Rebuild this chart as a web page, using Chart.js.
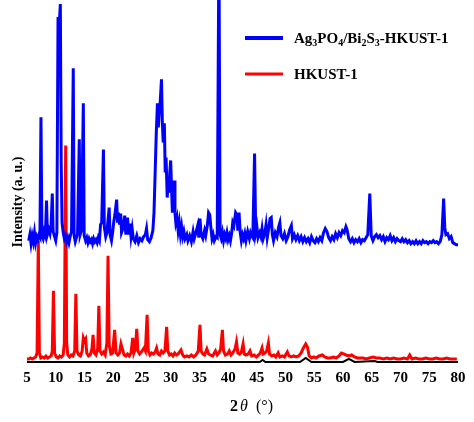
<!DOCTYPE html>
<html>
<head>
<meta charset="utf-8">
<script src="https://cdn.jsdelivr.net/npm/chart.js@4/dist/chart.umd.min.js"></script>
<style>
  html, body { margin: 0; padding: 0; background: #fff; }
  #wrap { width: 474px; height: 422px; position: relative; }
</style>
</head>
<body>
<div id="wrap"><canvas id="xrd"></canvas></div>
<script>
// --- Data (2θ in degrees, intensity in a.u., offset stacked) ---
const compositeAngles = [
  5.3, 5.5, 5.7, 5.9, 6.1, 6.3, 6.5, 6.7, 6.9, 7.1, 7.25, 7.43, 7.6, 7.8, 8.0, 8.2, 8.4, 8.55, 8.8, 9.0,
  9.2, 9.4, 9.55, 9.8, 10.0, 10.2, 10.4, 10.55, 10.8, 10.95, 11.1, 11.3, 11.5, 11.7, 11.9, 12.1, 12.3, 12.5, 12.75, 13.05,
  13.2, 13.4, 13.6, 13.8, 14.1, 14.25, 14.5, 14.8, 14.95, 15.2, 15.4, 15.6, 15.8, 16.0, 16.2, 16.4, 16.6, 16.8, 17.0, 17.2,
  17.4, 17.6, 17.8, 18.0, 18.3, 18.45, 18.7, 18.9, 19.3, 19.45, 19.7, 19.9, 20.1, 20.3, 20.6, 20.75, 20.9, 21.1, 21.3, 21.45,
  21.7, 22.0, 22.2, 22.5, 22.7, 22.9, 23.1, 23.3, 23.5, 23.8, 24.1, 24.4, 24.7, 25.0, 25.3, 25.6, 25.8, 26.0, 26.3, 26.6,
  26.9, 27.1, 27.3, 27.5, 27.7, 27.85, 28.0, 28.2, 28.4, 28.55, 28.7, 28.9, 29.05, 29.2, 29.4, 29.55, 29.7, 29.85, 30.0, 30.15,
  30.3, 30.45, 30.6, 30.75, 30.9, 31.1, 31.3, 31.5, 31.7, 31.9, 32.1, 32.3, 32.5, 32.8, 33.0, 33.3, 33.6, 33.9, 34.1, 34.4,
  34.7, 34.9, 35.1, 35.3, 35.6, 35.9, 36.1, 36.4, 36.6, 36.8, 37.0, 37.2, 37.4, 37.6, 37.9, 38.1, 38.4, 38.6, 38.8, 39.0,
  39.2, 39.4, 39.6, 39.8, 40.0, 40.2, 40.4, 40.6, 40.8, 41.0, 41.3, 41.5, 41.7, 41.9, 42.1, 42.3, 42.5, 42.7, 42.9, 43.1,
  43.4, 43.7, 43.9, 44.1, 44.3, 44.6, 44.8, 45.0, 45.2, 45.5, 45.7, 45.9, 46.1, 46.4, 46.6, 46.8, 47.0, 47.3, 47.5, 47.7,
  47.9, 48.2, 48.5, 48.8, 49.0, 49.2, 49.5, 49.8, 50.1, 50.4, 50.7, 51.0, 51.2, 51.5, 51.8, 52.1, 52.4, 52.7, 53.0, 53.3,
  53.6, 53.9, 54.2, 54.5, 54.8, 55.1, 55.4, 55.7, 56.0, 56.3, 56.6, 56.9, 57.2, 57.5, 57.8, 58.1, 58.4, 58.7, 59.0, 59.3,
  59.6, 59.9, 60.2, 60.5, 60.7, 61.0, 61.3, 61.6, 61.9, 62.2, 62.5, 62.8, 63.1, 63.4, 63.7, 64.0, 64.3, 64.65, 64.9, 65.2,
  65.5, 65.8, 66.1, 66.4, 66.7, 67.0, 67.3, 67.6, 67.9, 68.2, 68.5, 68.8, 69.1, 69.4, 69.7, 70.0, 70.3, 70.6, 70.9, 71.2,
  71.5, 71.8, 72.1, 72.4, 72.7, 73.0, 73.3, 73.6, 73.9, 74.2, 74.5, 74.8, 75.1, 75.4, 75.7, 76.0, 76.3, 76.6, 76.9, 77.2,
  77.5, 77.7, 77.9, 78.2, 78.5, 78.8, 79.1, 79.4, 79.7, 80.0
];
const compositeIntensity = [
  122, 128, 119, 127, 121, 130, 120, 126, 123, 128, 126, 245, 127, 124, 131, 127, 162, 128, 133, 129,
  138, 169, 131, 126, 122, 130, 345, 330, 358, 200, 140, 130, 124, 127, 121, 125, 120, 126, 131, 294,
  127, 121, 125, 129, 223, 128, 133, 259, 127, 122, 125, 120, 124, 121, 123, 119, 124, 121, 123, 120,
  125, 122, 138, 140, 213, 136, 126, 130, 155, 128, 122, 130, 141, 148, 163, 140, 150, 138, 149, 130,
  134, 147, 128, 145, 128, 139, 126, 134, 124, 121, 127, 120, 124, 122, 126, 128, 134, 123, 121, 125,
  132, 150, 190, 230, 259, 235, 250, 262, 283, 240, 220, 239, 190, 205, 165, 180, 170, 190, 202, 175,
  150, 170, 182, 150, 140, 145, 132, 140, 128, 136, 126, 131, 124, 128, 122, 127, 121, 131, 124, 130,
  137, 125, 144, 128, 124, 132, 127, 138, 150, 148, 135, 124, 128, 122, 126, 125, 420, 128, 124, 130,
  122, 128, 124, 130, 123, 127, 122, 129, 140, 137, 150, 148, 132, 150, 130, 122, 128, 124, 129, 122,
  131, 124, 130, 127, 125, 209, 130, 136, 125, 130, 126, 134, 124, 130, 138, 125, 132, 144, 145, 128,
  122, 130, 126, 136, 140, 127, 124, 129, 122, 126, 133, 137, 124, 128, 123, 127, 122, 126, 121, 125,
  121, 124, 120, 126, 122, 120, 124, 121, 125, 122, 130, 134, 131, 125, 122, 126, 123, 129, 125, 130,
  127, 132, 130, 136, 133, 124, 121, 124, 120, 123, 121, 124, 120, 123, 122, 125, 128, 169, 127, 122,
  126, 128, 125, 127, 123, 126, 121, 125, 123, 127, 122, 125, 121, 124, 122, 121, 124, 121, 123, 120,
  122, 119, 121, 119, 122, 119, 121, 119, 122, 120, 121, 119, 121, 120, 122, 120, 121, 119, 121, 128,
  164, 135, 128, 129, 124, 126, 120, 119, 118, 118
];

const hkustAngles = [
  5.0, 5.3, 5.6, 5.9, 6.2, 6.5, 6.75, 6.97, 7.15, 7.4, 7.7, 8.0, 8.3, 8.6, 8.9, 9.2, 9.4, 9.6, 9.8, 10.1,
  10.4, 10.7, 11.0, 11.3, 11.5, 11.73, 11.9, 12.1, 12.4, 12.7, 13.0, 13.3, 13.5, 13.7, 14.0, 14.3, 14.6, 14.8, 15.0, 15.2,
  15.4, 15.7, 16.0, 16.3, 16.5, 16.7, 17.0, 17.3, 17.5, 17.7, 18.0, 18.3, 18.6, 18.9, 19.1, 19.3, 19.6, 19.9, 20.25, 20.5,
  20.8, 21.1, 21.35, 21.6, 21.9, 22.2, 22.5, 22.8, 23.1, 23.4, 23.6, 23.85, 24.1, 24.3, 24.6, 24.9, 25.35, 25.6, 25.9, 26.1,
  26.4, 26.7, 27.0, 27.3, 27.55, 27.8, 28.1, 28.4, 28.7, 29.0, 29.3, 29.5, 29.8, 30.1, 30.4, 30.7, 31.0, 31.3, 31.8, 32.1,
  32.4, 32.8, 33.2, 33.6, 34.0, 34.4, 34.8, 35.1, 35.3, 35.6, 35.9, 36.3, 36.6, 36.9, 37.3, 37.8, 38.1, 38.4, 38.7, 39.0,
  39.2, 39.5, 39.9, 40.2, 40.5, 40.8, 41.2, 41.45, 41.7, 42.0, 42.3, 42.6, 42.8, 43.1, 43.5, 43.8, 44.1, 44.5, 44.9, 45.3,
  45.6, 45.9, 46.1, 46.4, 46.7, 47.0, 47.2, 47.6, 48.0, 48.3, 48.7, 49.0, 49.4, 49.8, 50.3, 50.6, 51.0, 51.4, 51.8, 52.3,
  52.7, 53.1, 53.5, 53.8, 54.1, 54.5, 54.9, 55.3, 55.8, 56.4, 56.8, 57.3, 57.8, 58.3, 58.8, 59.3, 59.7, 60.1, 60.5, 61.0,
  61.5, 62.0, 62.5, 63.0, 63.5, 64.0, 64.6, 65.2, 65.8, 66.4, 67.0, 67.6, 68.2, 68.8, 69.4, 70.0, 70.6, 71.2, 71.6, 72.0,
  72.6, 73.2, 73.8, 74.4, 75.0, 75.6, 76.2, 76.8, 77.4, 78.0, 78.6, 79.2, 79.8
];
const hkustIntensity = [
  4, 4, 5, 4, 5, 6, 10, 122, 10, 5, 6, 5, 7, 5, 6, 7, 12, 72, 10, 6,
  5, 7, 6, 8, 20, 217, 20, 8, 6, 8, 7, 12, 69, 12, 8, 7, 12, 25, 22, 24,
  10, 7, 8, 14, 28, 10, 8, 14, 57, 12, 9, 11, 8, 20, 107, 18, 9, 10, 33, 10,
  8, 10, 19, 14, 8, 7, 9, 7, 10, 25, 10, 14, 34, 12, 9, 11, 15, 12, 48, 12,
  8, 10, 9, 11, 15, 9, 8, 12, 10, 12, 36, 12, 8, 9, 7, 10, 8, 9, 13, 8,
  6, 7, 6, 8, 6, 8, 12, 38, 12, 9, 8, 14, 9, 8, 7, 12, 8, 10, 14, 33,
  12, 8, 9, 12, 8, 10, 14, 21, 10, 9, 11, 19, 9, 8, 9, 12, 7, 8, 6, 8,
  10, 15, 9, 10, 12, 20, 9, 7, 8, 6, 10, 6, 7, 6, 11, 7, 6, 7, 6, 7,
  10, 15, 19, 16, 7, 5, 6, 5, 7, 8, 6, 5, 5, 6, 5, 7, 10, 9, 8, 7,
  8, 6, 5, 5, 5, 4, 5, 6, 5, 5, 4, 5, 4, 5, 4, 4, 5, 4, 8, 4,
  5, 4, 4, 5, 4, 4, 5, 4, 4, 5, 4, 4, 4
];

// faint black trace hugging the bottom of the frame
const blankAngles = [5.0, 12.0, 25.0, 45.5, 46.0, 46.5, 52.5, 53.5, 54.5, 60.0, 61.0, 62.0, 65.5, 66.0, 80.0];
const blankIntensity = [1, 1, 1, 1, 3, 1, 1, 5, 1, 1, 4, 1, 2, 1, 1];

const xTicks = [5, 10, 15, 20, 25, 30, 35, 40, 45, 50, 55, 60, 65, 70, 75, 80];

const SERIF = "'Liberation Serif', 'Times New Roman', serif";

function toPoints(xs, ys) {
  return xs.map((x, i) => ({ x, y: ys[i] }));
}

// --- Legend + axis titles drawn by hand (subscripts, italic theta) ---
const decorPlugin = {
  id: 'decor',
  afterDraw(chart) {
    const ctx = chart.ctx;
    ctx.save();

    // legend swatches
    ctx.lineWidth = 4;
    ctx.strokeStyle = '#0000ff';
    ctx.beginPath(); ctx.moveTo(245, 38); ctx.lineTo(283, 38); ctx.stroke();
    ctx.lineWidth = 3;
    ctx.strokeStyle = '#ff0000';
    ctx.beginPath(); ctx.moveTo(245, 74); ctx.lineTo(283, 74); ctx.stroke();

    // legend text with subscripts
    ctx.fillStyle = '#000';
    ctx.textBaseline = 'alphabetic';
    ctx.textAlign = 'left';
    const parts = [['Ag', 0], ['3', 1], ['PO', 0], ['4', 1], ['/Bi', 0], ['2', 1], ['S', 0], ['3', 1], ['-HKUST-1', 0]];
    let x = 294;
    parts.forEach(([t, sub]) => {
      ctx.font = sub ? `bold 10px ${SERIF}` : `bold 15px ${SERIF}`;
      ctx.fillText(t, x, sub ? 46 : 43);
      x += ctx.measureText(t).width;
    });
    ctx.font = `bold 15px ${SERIF}`;
    ctx.fillText('HKUST-1', 294, 79);

    // x title: 2θ (°)
    ctx.font = `bold 16px ${SERIF}`;
    ctx.fillText('2', 230, 411);
    ctx.font = `italic 16px ${SERIF}`;
    ctx.fillText('\u03b8', 240, 411);
    ctx.font = `16px ${SERIF}`;
    ctx.fillText('(\u00b0)', 256, 411);

    // y title
    ctx.translate(18, 202);
    ctx.rotate(-Math.PI / 2);
    ctx.textAlign = 'center';
    ctx.textBaseline = 'middle';
    ctx.font = `bold 14px ${SERIF}`;
    ctx.fillText('Intensity (a. u.)', 0, 0);

    ctx.restore();
  },
};

new Chart(document.getElementById('xrd'), {
  type: 'line',
  data: {
    datasets: [
      {
        label: 'Ag3PO4/Bi2S3-HKUST-1',
        data: toPoints(compositeAngles, compositeIntensity),
        borderColor: '#0000ff',
        borderWidth: 3,
        pointRadius: 0,
        tension: 0,
      },
      {
        label: 'HKUST-1',
        data: toPoints(hkustAngles, hkustIntensity),
        borderColor: '#ff0000',
        borderWidth: 3,
        pointRadius: 0,
        tension: 0,
      },
      {
        label: 'blank',
        data: toPoints(blankAngles, blankIntensity),
        borderColor: '#000000',
        borderWidth: 2,
        pointRadius: 0,
        tension: 0,
      },
    ],
  },
  options: {
    responsive: true,
    maintainAspectRatio: false,
    animation: false,
    layout: { padding: { left: 27, right: 16, top: 0, bottom: 29 } },
    plugins: {
      legend: { display: false },
      tooltip: { enabled: false },
    },
    scales: {
      x: {
        type: 'linear',
        min: 5,
        max: 80,
        afterBuildTicks: (axis) => { axis.ticks = xTicks.map((v) => ({ value: v })); },
        grid: { display: false, drawTicks: false },
        border: { display: false },
        ticks: {
          color: '#000',
          padding: 6,
          maxRotation: 0,
          autoSkip: false,
          font: { family: SERIF, size: 15, weight: 'bold' },
        },
      },
      y: {
        display: false,
        min: 0,
        max: 362,
      },
    },
  },
  plugins: [decorPlugin],
});
</script>
</body>
</html>
